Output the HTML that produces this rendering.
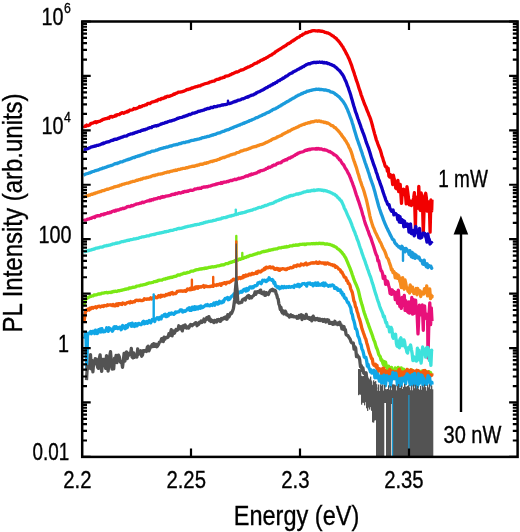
<!DOCTYPE html><html><head><meta charset="utf-8"><style>html,body{margin:0;padding:0;background:#fff;width:520px;height:532px;overflow:hidden}svg{display:block}</style></head><body><svg width="520" height="532" viewBox="0 0 520 532"><defs><clipPath id="pc"><rect x="82" y="21.5" width="435.6" height="435.4"/></clipPath></defs><rect width="520" height="532" fill="#fff"/><g clip-path="url(#pc)" fill="none" stroke-linejoin="round" stroke-linecap="butt"><polyline stroke="#f20000" stroke-width="3.3" points="83.5,125.8 84.3,126.5 85.1,126.0 85.9,126.3 86.7,125.1 87.5,125.7 88.3,125.6 89.1,125.2 89.9,125.0 90.7,123.6 91.5,123.3 92.3,123.1 93.1,123.1 93.9,122.4 94.7,122.2 95.5,121.8 96.3,122.8 97.1,121.7 97.9,121.8 98.7,121.3 99.5,121.4 100.3,121.2 101.1,120.4 101.9,120.3 102.7,119.4 103.5,119.4 104.3,119.0 105.1,118.9 105.9,118.6 106.7,118.7 107.5,118.1 108.3,117.8 109.1,118.2 109.9,116.8 110.7,116.5 111.5,116.3 112.3,117.1 113.1,116.5 113.9,116.4 114.7,116.4 115.5,115.2 116.3,115.8 117.1,114.6 117.9,114.7 118.7,114.6 119.5,114.5 120.3,113.5 121.1,113.5 121.9,112.7 122.7,112.7 123.5,113.3 124.3,112.9 125.1,112.2 125.9,112.2 126.7,112.1 127.5,111.1 128.3,111.6 129.1,110.7 129.9,110.0 130.7,110.2 131.5,110.0 132.3,109.8 133.1,109.5 133.9,108.5 134.7,108.9 135.5,108.9 136.3,108.3 137.1,108.4 137.9,107.6 138.7,107.6 139.5,106.5 140.3,107.1 141.1,106.3 141.9,106.5 142.7,105.6 143.5,105.6 144.3,105.5 145.1,105.1 145.9,104.7 146.7,104.8 147.5,103.5 148.3,103.3 149.1,103.4 149.9,103.6 150.7,103.0 151.5,102.3 152.3,101.8 153.1,101.8 153.9,101.6 154.7,101.3 155.5,101.1 156.3,100.5 157.1,100.8 157.9,99.9 158.7,99.4 159.5,99.3 160.3,99.6 161.1,98.6 161.9,98.4 162.7,98.7 163.5,97.9 164.3,98.0 165.1,97.0 165.9,97.5 166.7,96.6 167.5,96.2 168.3,96.5 169.1,96.4 169.9,96.1 170.7,95.6 171.5,95.5 172.3,95.2 173.1,94.6 173.9,93.9 174.7,94.3 175.5,93.6 176.3,93.2 177.1,93.1 177.9,92.4 178.7,92.1 179.5,92.1 180.3,92.1 181.1,91.9 181.9,91.8 182.7,91.4 183.5,91.3 184.3,90.8 185.1,90.6 185.9,90.2 186.7,89.5 187.5,89.3 188.3,89.6 189.1,88.9 189.9,89.1 190.7,88.6 191.5,88.0 192.3,88.1 193.1,87.8 193.9,87.3 194.7,87.2 195.5,86.9 196.3,86.7 197.1,86.7 197.9,86.1 198.7,86.0 199.5,85.9 200.3,85.9 201.1,85.0 201.9,84.8 202.7,84.6 203.5,84.3 204.3,84.0 205.1,83.7 205.9,83.5 206.7,83.3 207.5,83.2 208.3,83.0 209.1,82.5 209.9,82.1 210.7,81.8 211.5,81.6 212.3,81.3 213.1,81.2 213.9,81.2 214.7,80.8 215.5,80.1 216.3,79.7 217.1,79.4 217.9,79.4 218.7,79.0 219.5,79.0 220.3,78.2 221.1,78.1 221.9,78.0 222.7,77.7 223.5,77.3 224.3,77.3 225.1,76.4 225.9,76.2 226.7,76.1 227.5,75.8 228.3,75.8 229.1,75.5 229.9,74.9 230.7,74.7 231.5,74.3 232.3,73.6 233.1,73.6 233.9,73.1 234.7,72.8 235.5,72.3 236.3,71.9 237.1,72.1 237.9,71.7 238.7,71.4 239.5,70.8 240.3,70.5 241.1,70.0 241.9,70.0 242.7,69.8 243.5,69.4 244.3,69.2 245.1,68.4 245.9,68.3 246.7,67.6 247.5,67.5 248.3,66.8 249.1,66.8 249.9,66.4 250.7,65.9 251.5,65.5 252.3,65.3 253.1,64.7 253.9,64.2 254.7,63.6 255.5,63.3 256.3,63.2 257.1,62.9 257.9,62.0 258.7,61.9 259.5,61.5 260.3,60.7 261.1,60.3 261.9,60.2 262.7,59.5 263.5,59.5 264.3,58.7 265.1,58.6 265.9,58.2 266.7,57.4 267.5,57.4 268.3,56.6 269.1,56.1 269.9,55.6 270.7,55.3 271.5,55.0 272.3,54.2 273.1,54.0 273.9,53.1 274.7,52.9 275.5,51.8 276.3,51.4 277.1,50.8 277.9,50.4 278.7,49.8 279.5,49.3 280.3,49.0 281.1,48.3 281.9,47.8 282.7,47.2 283.5,46.9 284.3,46.2 285.1,45.9 285.9,45.5 286.7,44.8 287.5,44.1 288.3,43.5 289.1,43.5 289.9,42.8 290.7,42.4 291.5,41.5 292.3,41.1 293.1,40.9 293.9,39.9 294.7,39.8 295.5,39.1 296.3,38.4 297.1,38.0 297.9,37.3 298.7,37.2 299.5,36.8 300.3,35.8 301.1,35.5 301.9,35.3 302.7,34.4 303.5,34.1 304.3,33.8 305.1,33.2 305.9,32.5 306.7,32.8 307.5,32.4 308.3,32.1 309.1,31.7 309.9,31.7 310.7,31.4 311.5,31.0 312.3,30.9 313.1,30.7 313.9,30.7 314.7,30.7 315.5,30.9 316.3,30.9 317.1,30.9 317.9,31.1 318.7,30.7 319.5,31.0 320.3,30.9 321.1,31.3 321.9,31.2 322.7,31.4 323.5,31.6 324.3,32.0 325.1,32.4 325.9,32.3 326.7,32.9 327.5,32.8 328.3,33.2 329.1,33.7 329.9,33.9 330.7,34.6 331.5,35.1 332.3,35.8 333.1,35.8 333.9,36.8 334.7,37.3 335.5,38.0 336.3,38.4 337.1,39.8 337.9,40.2 338.7,41.3 339.5,42.2 340.3,43.5 341.1,44.3 341.9,45.8 342.7,46.6 343.5,48.2 344.3,49.6 345.1,51.0 345.9,52.6 346.7,54.1 347.5,55.5 348.3,57.5 349.1,58.9 349.9,61.0 350.7,63.1 351.5,65.1 352.3,67.7 353.1,70.2 353.9,72.3 354.7,74.9 355.5,77.3 356.3,80.1 357.1,82.1 357.9,84.6 358.7,87.2 359.5,89.7 360.3,91.8 361.1,94.8 361.9,96.7 362.7,99.2 363.5,101.2 364.3,103.5 365.1,105.3 365.9,107.2 366.7,109.3 367.5,111.3 368.3,113.2 369.1,115.4 369.9,117.2 370.7,119.4 371.5,122.1 372.3,125.0 373.1,128.2 373.9,131.1 374.7,134.1 375.5,136.8 376.3,139.8 377.1,141.7 377.9,144.1 378.7,146.2 379.5,148.2 380.3,150.1 381.1,152.7 381.9,155.8 382.7,157.8 383.5,160.9 384.3,162.9 385.1,165.9 385.9,167.1 386.7,167.0 387.4,171.2 388.2,168.3 388.9,176.2 389.7,177.0 390.4,174.5 391.2,177.2 391.9,178.4 392.7,184.5 393.4,175.2 394.2,179.2 394.9,181.7 395.7,188.0 396.4,188.7 397.2,185.6 397.9,180.4 398.7,191.7 399.4,188.7 400.2,184.3 400.9,194.3 401.5,203.3 402.4,189.5 403.2,189.3 403.9,194.6 404.7,190.0 405.4,193.1 406.2,203.8 407.0,186.6 407.7,191.8 408.4,197.1 409.2,204.9 409.9,204.3 410.7,201.1 411.4,205.6 412.2,203.2 412.9,202.1 413.7,197.6 414.4,192.7 415.4,227.9 415.9,202.3 416.7,208.7 417.4,196.9 418.2,207.5 418.8,186.4 419.7,209.2 420.4,210.4 421.2,192.9 421.9,198.3 422.7,211.1 423.3,233.7 424.2,205.4 424.9,195.5 425.7,193.3 426.4,198.1 427.2,211.2 427.9,208.8 428.7,201.9 429.4,208.3 430.1,232.1 430.9,200.0 431.7,210.9 432.0,199.7"/><polyline stroke="#1000c4" stroke-width="3.3" points="83.5,149.6 84.3,149.8 85.1,149.3 85.9,149.0 86.7,149.0 87.5,148.7 88.3,148.6 89.1,147.9 89.9,147.8 90.7,147.2 91.5,146.9 92.3,146.8 93.1,146.5 93.9,146.4 94.7,146.0 95.5,146.2 96.3,145.6 97.1,145.3 97.9,145.4 98.7,145.0 99.5,144.8 100.3,144.6 101.1,144.2 101.9,143.7 102.7,143.8 103.5,142.9 104.3,143.3 105.1,142.7 105.9,142.4 106.7,142.2 107.5,141.9 108.3,141.9 109.1,141.6 109.9,141.3 110.7,140.7 111.5,140.6 112.3,140.1 113.1,140.3 113.9,139.5 114.7,139.5 115.5,139.1 116.3,139.3 117.1,139.1 117.9,138.4 118.7,138.5 119.5,137.8 120.3,137.9 121.1,137.3 121.9,137.1 122.7,137.0 123.5,136.6 124.3,136.2 125.1,136.2 125.9,136.1 126.7,135.9 127.5,135.2 128.3,134.9 129.1,134.5 129.9,134.3 130.7,133.9 131.5,133.8 132.3,133.9 133.1,133.2 133.9,133.3 134.7,132.8 135.5,132.5 136.3,132.4 137.1,132.1 137.9,131.8 138.7,131.3 139.5,131.4 140.3,131.3 141.1,130.5 141.9,130.2 142.7,130.3 143.5,129.9 144.3,129.6 145.1,129.8 145.9,129.1 146.7,129.2 147.5,128.7 148.3,128.1 149.1,128.0 149.9,127.6 150.7,127.6 151.5,127.6 152.3,126.7 153.1,126.5 153.9,126.2 154.7,126.1 155.5,125.7 156.3,126.0 157.1,125.6 157.9,125.5 158.7,125.0 159.5,124.8 160.3,124.5 161.1,124.0 161.9,123.9 162.7,123.4 163.5,123.3 164.3,123.2 165.1,122.6 165.9,122.3 166.7,122.5 167.5,121.9 168.3,121.5 169.1,121.3 169.9,121.0 170.7,121.2 171.5,120.6 172.3,120.6 173.1,120.1 173.9,120.1 174.7,119.8 175.5,119.3 176.3,119.2 177.1,118.6 177.9,118.2 178.7,118.3 179.5,117.7 180.3,117.7 181.1,117.5 181.9,117.3 182.7,117.2 183.5,116.4 184.3,116.6 185.1,116.1 185.9,115.9 186.7,115.5 187.5,115.5 188.3,114.9 189.1,114.4 189.9,114.7 190.7,114.3 191.5,114.0 192.3,113.4 193.1,113.1 193.9,113.1 194.7,113.0 195.5,112.6 196.3,112.3 197.1,112.1 197.9,111.5 198.7,111.4 199.5,111.1 200.3,111.1 201.1,110.7 201.9,110.6 202.7,110.3 203.5,110.2 204.3,109.9 205.1,109.1 205.9,109.3 206.7,108.9 207.5,108.4 208.3,108.5 209.1,108.5 209.9,108.2 210.7,107.5 211.5,107.4 212.3,107.5 213.1,107.5 213.9,106.7 214.7,106.5 215.5,106.8 216.3,106.5 217.1,106.5 217.9,105.9 218.7,105.9 219.5,105.9 220.3,105.5 221.1,105.3 221.9,104.9 222.7,105.2 223.5,104.8 224.3,104.6 225.1,104.6 225.9,104.5 226.7,104.3 227.5,103.8 228.3,103.7 229.1,103.4 229.9,103.5 230.7,103.2 231.5,102.9 232.3,102.7 233.1,102.2 233.9,102.0 234.7,101.5 235.5,101.6 236.3,101.0 237.1,100.9 237.9,100.2 238.7,100.2 239.5,100.1 240.3,99.8 241.1,99.4 241.9,98.9 242.7,98.9 243.5,98.6 244.3,98.3 245.1,97.9 245.9,97.4 246.7,97.4 247.5,96.7 248.3,97.0 249.1,96.3 249.9,95.9 250.7,95.7 251.5,95.1 252.3,95.2 253.1,94.9 253.9,94.5 254.7,93.9 255.5,93.8 256.3,92.9 257.1,92.6 257.9,92.0 258.7,91.8 259.5,91.7 260.3,91.2 261.1,90.7 261.9,90.3 262.7,89.9 263.5,89.5 264.3,89.0 265.1,88.6 265.9,87.9 266.7,87.7 267.5,87.4 268.3,86.6 269.1,86.2 269.9,86.2 270.7,85.3 271.5,84.9 272.3,84.8 273.1,83.9 273.9,83.6 274.7,83.5 275.5,82.7 276.3,82.5 277.1,82.0 277.9,81.0 278.7,80.7 279.5,80.7 280.3,79.8 281.1,79.4 281.9,79.2 282.7,78.2 283.5,78.3 284.3,77.6 285.1,77.1 285.9,76.1 286.7,76.1 287.5,75.7 288.3,74.9 289.1,74.2 289.9,73.8 290.7,73.3 291.5,73.1 292.3,72.9 293.1,71.9 293.9,71.7 294.7,71.2 295.5,70.8 296.3,70.4 297.1,69.9 297.9,69.3 298.7,69.2 299.5,68.6 300.3,68.0 301.1,68.0 301.9,67.4 302.7,66.6 303.5,66.7 304.3,66.0 305.1,65.4 305.9,65.0 306.7,64.5 307.5,64.2 308.3,63.9 309.1,63.7 309.9,63.9 310.7,63.4 311.5,62.9 312.3,62.9 313.1,62.7 313.9,62.3 314.7,62.5 315.5,62.4 316.3,62.6 317.1,62.2 317.9,62.3 318.7,62.3 319.5,62.0 320.3,62.3 321.1,62.3 321.9,62.2 322.7,62.2 323.5,62.9 324.3,62.4 325.1,63.0 325.9,62.8 326.7,62.7 327.5,63.5 328.3,63.5 329.1,63.6 329.9,64.2 330.7,64.5 331.5,64.6 332.3,65.2 333.1,65.6 333.9,65.7 334.7,66.5 335.5,67.2 336.3,67.7 337.1,68.5 337.9,69.3 338.7,70.0 339.5,70.6 340.3,71.6 341.1,72.8 341.9,73.9 342.7,74.9 343.5,76.3 344.3,78.0 345.1,80.0 345.9,81.4 346.7,83.5 347.5,85.9 348.3,87.7 349.1,90.2 349.9,92.5 350.7,94.9 351.5,98.1 352.3,100.6 353.1,103.5 353.9,106.3 354.7,108.8 355.5,111.7 356.3,113.6 357.1,115.9 357.9,118.5 358.7,120.5 359.5,122.9 360.3,125.0 361.1,127.5 361.9,129.6 362.7,131.9 363.5,133.8 364.3,136.1 365.1,138.6 365.9,141.1 366.7,143.4 367.5,145.5 368.3,147.6 369.1,150.1 369.9,152.6 370.7,155.3 371.5,158.1 372.3,160.2 373.1,162.7 373.9,165.2 374.7,167.2 375.5,169.4 376.3,172.3 377.1,174.1 377.9,177.1 378.7,179.4 379.5,181.2 380.3,183.9 381.1,185.9 381.9,188.1 382.7,190.9 383.5,193.2 384.3,195.6 385.1,197.7 385.9,200.3 386.7,201.6 387.5,204.0 388.3,205.1 389.1,204.8 389.9,208.3 390.7,209.8 391.5,211.3 392.3,211.5 393.1,210.0 393.9,214.9 394.7,213.7 395.5,213.5 396.3,214.3 397.0,215.1 397.8,219.6 398.5,215.7 399.3,222.1 400.0,216.6 400.8,222.4 401.5,219.4 402.3,222.3 403.0,220.2 403.8,226.9 404.5,221.2 405.3,224.5 406.0,226.4 406.8,225.6 407.5,224.0 408.3,225.2 409.0,232.0 409.8,224.7 410.5,224.0 411.3,233.5 412.0,233.8 412.8,232.2 413.5,230.4 414.3,235.9 415.0,230.6 415.8,226.5 416.5,231.5 417.3,232.9 418.0,233.4 418.8,237.7 419.5,228.5 420.3,238.1 421.0,234.6 421.8,237.5 422.5,234.0 423.3,233.0 424.0,233.8 424.8,233.5 425.5,236.2 426.3,238.5 427.0,242.1 427.8,233.8 428.5,238.0 429.3,239.6 430.0,244.0 430.8,243.1 431.5,242.4 432.0,243.5"/><path d="M228.0 103.7V100.7" stroke="#1000c4" stroke-width="2.4" stroke-linecap="round"/><polyline stroke="#1a9bdc" stroke-width="3.3" points="83.5,175.1 84.3,174.8 85.1,174.3 85.9,173.8 86.7,173.8 87.5,173.5 88.3,173.3 89.1,172.8 89.9,172.9 90.7,172.2 91.5,172.3 92.3,171.7 93.1,171.5 93.9,171.3 94.7,170.8 95.5,170.6 96.3,170.5 97.1,170.2 97.9,170.1 98.7,169.6 99.5,169.5 100.3,168.9 101.1,168.8 101.9,168.6 102.7,168.0 103.5,168.1 104.3,167.8 105.1,167.4 105.9,167.3 106.7,166.9 107.5,166.5 108.3,166.4 109.1,166.0 109.9,165.8 110.7,165.7 111.5,165.3 112.3,165.1 113.1,164.8 113.9,164.2 114.7,163.9 115.5,163.6 116.3,163.5 117.1,163.5 117.9,163.0 118.7,163.0 119.5,162.4 120.3,162.0 121.1,161.9 121.9,161.8 122.7,161.6 123.5,161.1 124.3,160.8 125.1,160.7 125.9,160.2 126.7,159.9 127.5,159.9 128.3,159.2 129.1,159.3 129.9,159.1 130.7,158.4 131.5,158.5 132.3,157.8 133.1,157.6 133.9,157.4 134.7,157.5 135.5,156.7 136.3,156.7 137.1,156.4 137.9,156.0 138.7,156.1 139.5,155.5 140.3,155.5 141.1,155.1 141.9,154.9 142.7,154.6 143.5,154.3 144.3,154.1 145.1,153.9 145.9,153.3 146.7,153.0 147.5,152.9 148.3,152.5 149.1,152.4 149.9,152.4 150.7,151.9 151.5,151.4 152.3,151.2 153.1,151.1 153.9,151.0 154.7,150.8 155.5,150.5 156.3,150.1 157.1,150.1 157.9,149.6 158.7,149.5 159.5,148.9 160.3,148.9 161.1,148.5 161.9,148.3 162.7,148.1 163.5,148.0 164.3,147.6 165.1,147.7 165.9,147.3 166.7,147.0 167.5,147.1 168.3,146.8 169.1,146.4 169.9,146.1 170.7,146.0 171.5,146.0 172.3,145.6 173.1,145.3 173.9,145.0 174.7,144.9 175.5,144.9 176.3,144.4 177.1,144.6 177.9,144.3 178.7,143.9 179.5,143.6 180.3,143.5 181.1,143.5 181.9,142.9 182.7,142.8 183.5,142.5 184.3,142.6 185.1,142.5 185.9,142.1 186.7,141.8 187.5,141.9 188.3,141.5 189.1,141.5 189.9,141.0 190.7,140.7 191.5,140.5 192.3,140.4 193.1,140.3 193.9,140.2 194.7,139.9 195.5,139.6 196.3,139.7 197.1,139.3 197.9,139.2 198.7,139.1 199.5,138.8 200.3,138.4 201.1,138.5 201.9,137.9 202.7,137.7 203.5,137.7 204.3,137.5 205.1,137.1 205.9,137.1 206.7,136.6 207.5,136.5 208.3,136.5 209.1,136.3 209.9,135.9 210.7,135.7 211.5,135.4 212.3,135.0 213.1,135.0 213.9,134.6 214.7,134.4 215.5,134.3 216.3,133.8 217.1,133.4 217.9,133.2 218.7,133.0 219.5,132.9 220.3,132.6 221.1,132.0 221.9,131.8 222.7,131.3 223.5,131.3 224.3,131.1 225.1,130.5 225.9,130.4 226.7,129.9 227.5,129.9 228.3,129.6 229.1,129.4 229.9,128.7 230.7,128.4 231.5,128.3 232.3,127.7 233.1,127.8 233.9,127.1 234.7,126.8 235.5,126.5 236.3,126.4 237.1,125.8 237.9,125.6 238.7,125.2 239.5,125.2 240.3,124.5 241.1,124.2 241.9,124.2 242.7,123.7 243.5,123.2 244.3,123.3 245.1,122.6 245.9,122.3 246.7,122.1 247.5,121.7 248.3,121.5 249.1,121.0 249.9,120.5 250.7,120.3 251.5,120.1 252.3,119.5 253.1,119.3 253.9,119.0 254.7,118.7 255.5,118.2 256.3,117.7 257.1,117.6 257.9,117.3 258.7,116.8 259.5,116.2 260.3,116.2 261.1,115.7 261.9,115.4 262.7,114.7 263.5,114.7 264.3,114.1 265.1,114.0 265.9,113.3 266.7,112.8 267.5,112.6 268.3,112.4 269.1,112.0 269.9,111.6 270.7,110.9 271.5,110.7 272.3,110.0 273.1,109.6 273.9,109.1 274.7,109.0 275.5,108.7 276.3,108.1 277.1,107.7 277.9,107.4 278.7,106.6 279.5,106.3 280.3,106.0 281.1,105.2 281.9,105.0 282.7,104.2 283.5,103.9 284.3,103.4 285.1,103.0 285.9,102.4 286.7,101.9 287.5,101.6 288.3,101.1 289.1,100.8 289.9,100.0 290.7,99.9 291.5,99.1 292.3,98.8 293.1,98.1 293.9,98.1 294.7,97.4 295.5,96.9 296.3,96.2 297.1,96.1 297.9,95.4 298.7,95.1 299.5,94.8 300.3,94.5 301.1,93.9 301.9,93.4 302.7,93.5 303.5,92.8 304.3,92.3 305.1,92.3 305.9,92.1 306.7,91.4 307.5,91.1 308.3,91.1 309.1,90.9 309.9,90.5 310.7,90.3 311.5,90.4 312.3,89.8 313.1,89.8 313.9,89.7 314.7,89.7 315.5,89.4 316.3,89.2 317.1,89.4 317.9,89.4 318.7,89.1 319.5,89.5 320.3,89.5 321.1,89.4 321.9,89.6 322.7,89.7 323.5,89.9 324.3,90.1 325.1,89.9 325.9,90.0 326.7,90.3 327.5,90.6 328.3,90.7 329.1,90.9 329.9,91.2 330.7,91.9 331.5,92.1 332.3,92.2 333.1,92.6 333.9,93.0 334.7,93.4 335.5,94.3 336.3,94.6 337.1,95.4 337.9,96.0 338.7,96.6 339.5,97.3 340.3,98.4 341.1,99.2 341.9,100.1 342.7,101.0 343.5,102.2 344.3,103.5 345.1,104.6 345.9,106.3 346.7,108.1 347.5,109.5 348.3,111.9 349.1,113.7 349.9,116.0 350.7,118.2 351.5,120.1 352.3,122.9 353.1,125.3 353.9,128.2 354.7,131.1 355.5,133.6 356.3,136.3 357.1,138.9 357.9,141.0 358.7,143.4 359.5,145.6 360.3,148.0 361.1,150.4 361.9,152.5 362.7,155.2 363.5,157.6 364.3,159.9 365.1,162.5 365.9,164.6 366.7,167.2 367.5,169.2 368.3,171.8 369.1,174.0 369.9,176.9 370.7,179.2 371.5,181.3 372.3,183.7 373.1,185.8 373.9,188.6 374.7,191.2 375.5,194.3 376.3,197.4 377.1,200.2 377.9,203.2 378.7,206.2 379.5,208.7 380.3,211.0 381.1,213.5 381.9,215.4 382.7,217.6 383.5,219.9 384.3,221.8 385.1,223.8 385.9,225.7 386.7,227.5 387.5,229.0 388.3,230.9 389.1,232.3 389.9,234.0 390.7,235.7 391.5,237.0 392.3,239.0 393.1,239.5 393.9,239.9 394.7,242.4 395.5,243.8 396.3,244.0 397.1,245.6 397.9,245.8 398.7,247.1 399.5,246.8 400.3,248.0 401.1,248.7 401.9,246.2 402.7,247.6 403.5,249.5 404.3,248.7 405.1,251.9 405.9,248.4 406.7,249.3 407.5,250.8 408.3,251.4 409.1,254.4 409.9,250.7 410.7,255.4 411.4,256.7 412.2,252.3 412.9,257.6 413.7,256.5 414.4,254.1 415.2,258.4 415.9,255.0 416.7,256.9 417.4,256.6 418.2,257.9 418.9,257.0 419.7,258.8 420.4,260.4 421.2,260.3 421.9,261.1 422.7,263.9 423.4,264.2 424.2,260.1 424.9,264.5 425.7,265.3 426.4,266.6 427.2,263.8 427.9,267.7 428.7,265.8 429.4,265.7 430.2,266.5 430.9,266.3 431.7,268.3 432.0,267.2"/><path d="M403.0 248.7V260.7" stroke="#1a9bdc" stroke-width="2.4" stroke-linecap="round"/><polyline stroke="#f68a1c" stroke-width="3.3" points="83.5,197.3 84.3,196.8 85.1,196.5 85.9,196.3 86.7,196.0 87.5,195.6 88.3,195.5 89.1,195.1 89.9,195.1 90.7,194.5 91.5,194.2 92.3,194.3 93.1,193.9 93.9,193.5 94.7,193.5 95.5,193.0 96.3,192.9 97.1,192.6 97.9,192.2 98.7,192.1 99.5,191.8 100.3,191.3 101.1,191.5 101.9,190.9 102.7,190.7 103.5,190.7 104.3,190.4 105.1,189.8 105.9,189.8 106.7,189.2 107.5,189.4 108.3,189.0 109.1,188.8 109.9,188.5 110.7,188.2 111.5,188.1 112.3,187.7 113.1,187.6 113.9,187.0 114.7,186.9 115.5,186.6 116.3,186.5 117.1,186.3 117.9,185.9 118.7,186.0 119.5,185.5 120.3,185.1 121.1,185.2 121.9,184.6 122.7,184.3 123.5,184.2 124.3,184.1 125.1,183.7 125.9,183.5 126.7,183.2 127.5,183.1 128.3,183.1 129.1,182.6 129.9,182.5 130.7,182.1 131.5,181.8 132.3,181.6 133.1,181.3 133.9,181.3 134.7,181.1 135.5,180.8 136.3,180.4 137.1,180.2 137.9,180.3 138.7,179.7 139.5,179.6 140.3,179.5 141.1,179.0 141.9,179.2 142.7,178.6 143.5,178.2 144.3,178.2 145.1,178.1 145.9,177.9 146.7,177.5 147.5,177.5 148.3,177.3 149.1,176.9 149.9,176.9 150.7,176.7 151.5,176.1 152.3,175.9 153.1,175.6 153.9,175.4 154.7,175.6 155.5,175.1 156.3,174.8 157.1,174.8 157.9,174.4 158.7,174.1 159.5,174.1 160.3,174.1 161.1,173.8 161.9,173.8 162.7,173.3 163.5,173.4 164.3,172.8 165.1,172.7 165.9,172.7 166.7,172.3 167.5,171.9 168.3,172.1 169.1,172.0 169.9,171.5 170.7,171.3 171.5,171.1 172.3,171.1 173.1,170.8 173.9,170.5 174.7,170.7 175.5,170.0 176.3,170.3 177.1,170.1 177.9,169.5 178.7,169.3 179.5,169.5 180.3,169.2 181.1,168.8 181.9,168.8 182.7,168.4 183.5,168.4 184.3,168.3 185.1,168.3 185.9,167.9 186.7,167.6 187.5,167.8 188.3,167.5 189.1,167.0 189.9,166.8 190.7,166.8 191.5,166.5 192.3,166.4 193.1,166.2 193.9,166.4 194.7,166.1 195.5,165.8 196.3,165.3 197.1,165.5 197.9,165.1 198.7,165.2 199.5,164.5 200.3,164.4 201.1,164.2 201.9,164.4 202.7,164.2 203.5,163.9 204.3,163.4 205.1,163.1 205.9,163.4 206.7,162.7 207.5,162.9 208.3,162.5 209.1,162.2 209.9,162.0 210.7,161.6 211.5,161.3 212.3,161.5 213.1,161.1 213.9,160.9 214.7,160.5 215.5,160.3 216.3,160.3 217.1,159.9 217.9,159.5 218.7,159.3 219.5,159.3 220.3,158.5 221.1,158.4 221.9,158.0 222.7,157.7 223.5,157.4 224.3,157.5 225.1,157.1 225.9,156.8 226.7,156.4 227.5,156.2 228.3,155.9 229.1,155.8 229.9,155.1 230.7,154.9 231.5,154.6 232.3,154.5 233.1,154.2 233.9,154.0 234.7,153.9 235.5,153.6 236.3,152.9 237.1,152.7 237.9,152.5 238.7,152.3 239.5,151.9 240.3,151.4 241.1,151.0 241.9,150.9 242.7,150.8 243.5,150.2 244.3,150.1 245.1,149.8 245.9,149.9 246.7,149.4 247.5,149.3 248.3,148.8 249.1,148.5 249.9,148.5 250.7,147.9 251.5,147.8 252.3,147.2 253.1,147.0 253.9,146.9 254.7,146.6 255.5,146.5 256.3,146.5 257.1,145.8 257.9,145.5 258.7,145.5 259.5,145.1 260.3,144.6 261.1,144.7 261.9,144.5 262.7,144.1 263.5,143.8 264.3,143.4 265.1,143.2 265.9,142.3 266.7,142.4 267.5,141.9 268.3,141.7 269.1,141.2 269.9,140.7 270.7,140.4 271.5,139.7 272.3,139.4 273.1,138.9 273.9,138.7 274.7,138.6 275.5,137.9 276.3,137.9 277.1,137.0 277.9,136.9 278.7,136.3 279.5,136.1 280.3,135.8 281.1,135.5 281.9,135.0 282.7,134.2 283.5,134.1 284.3,133.4 285.1,133.2 285.9,132.5 286.7,132.3 287.5,132.0 288.3,131.2 289.1,131.1 289.9,130.9 290.7,130.3 291.5,129.7 292.3,129.3 293.1,129.0 293.9,128.6 294.7,128.3 295.5,128.0 296.3,127.6 297.1,127.2 297.9,126.9 298.7,126.5 299.5,125.8 300.3,125.7 301.1,125.3 301.9,124.8 302.7,124.8 303.5,124.2 304.3,124.3 305.1,123.9 305.9,123.3 306.7,123.3 307.5,123.1 308.3,122.7 309.1,122.9 309.9,122.7 310.7,122.0 311.5,122.1 312.3,121.7 313.1,121.8 313.9,121.7 314.7,121.2 315.5,121.2 316.3,120.9 317.1,121.1 317.9,121.3 318.7,121.0 319.5,120.9 320.3,121.6 321.1,121.2 321.9,121.8 322.7,121.9 323.5,122.0 324.3,122.5 325.1,122.2 325.9,122.5 326.7,123.1 327.5,122.9 328.3,123.4 329.1,123.7 329.9,124.3 330.7,125.0 331.5,125.6 332.3,125.6 333.1,126.0 333.9,127.0 334.7,127.7 335.5,127.7 336.3,128.8 337.1,129.6 337.9,130.4 338.7,131.4 339.5,132.2 340.3,133.5 341.1,134.1 341.9,135.6 342.7,136.6 343.5,137.7 344.3,138.6 345.1,140.2 345.9,141.0 346.7,142.5 347.5,143.9 348.3,145.2 349.1,147.4 349.9,148.6 350.7,150.7 351.5,152.7 352.3,155.3 353.1,158.2 353.9,160.6 354.7,162.7 355.5,165.2 356.3,167.3 357.1,170.1 357.9,173.0 358.7,175.3 359.5,178.2 360.3,180.7 361.1,182.9 361.9,185.5 362.7,187.5 363.5,189.8 364.3,192.3 365.1,195.2 365.9,197.9 366.7,201.0 367.5,204.6 368.3,208.4 369.1,212.1 369.9,216.1 370.7,219.2 371.5,221.9 372.3,224.6 373.1,227.0 373.9,228.5 374.7,230.8 375.5,232.5 376.3,234.0 377.1,235.7 377.9,237.6 378.7,238.8 379.5,240.7 380.3,242.2 381.1,243.5 381.9,245.7 382.7,247.4 383.5,249.0 384.3,250.4 385.1,252.2 385.9,254.3 386.7,257.1 387.5,258.0 388.3,259.3 389.1,261.8 389.9,264.1 390.7,266.3 391.5,269.9 392.2,269.3 393.0,272.6 393.7,271.5 394.5,272.7 395.2,277.8 396.0,273.7 396.7,274.9 397.5,278.3 398.2,275.1 399.0,276.4 399.7,280.9 400.5,283.0 401.2,287.6 402.0,278.1 402.7,277.8 403.5,286.1 404.2,289.2 405.0,279.9 405.7,282.8 406.5,288.0 407.2,287.9 408.0,291.2 408.7,289.0 409.5,293.0 410.2,284.9 411.0,291.1 411.7,289.3 412.5,287.1 413.2,291.6 414.0,293.6 414.7,290.3 415.5,292.4 416.2,288.5 417.0,294.8 417.7,288.5 418.5,291.9 419.2,291.7 420.0,290.7 420.7,296.5 421.5,293.6 422.2,292.1 423.0,293.9 423.7,294.0 424.5,288.6 425.2,288.5 426.0,292.8 426.7,286.0 427.5,295.9 428.2,295.4 429.0,293.5 429.7,288.9 430.5,298.7 431.2,295.2 432.0,297.0 432.0,294.9"/><polyline stroke="#e8107a" stroke-width="3.3" points="83.5,221.0 84.3,220.1 85.1,220.1 85.9,220.2 86.7,219.7 87.5,219.1 88.3,219.2 89.1,219.0 89.9,218.6 90.7,218.1 91.5,218.3 92.3,217.6 93.1,217.3 93.9,217.0 94.7,217.5 95.5,216.3 96.3,216.0 97.1,216.0 97.9,215.6 98.7,215.6 99.5,215.9 100.3,215.7 101.1,214.7 101.9,214.5 102.7,214.4 103.5,214.7 104.3,213.7 105.1,214.0 105.9,213.6 106.7,213.6 107.5,212.8 108.3,213.2 109.1,213.0 109.9,212.2 110.7,212.5 111.5,212.0 112.3,211.3 113.1,211.2 113.9,210.8 114.7,211.2 115.5,210.3 116.3,210.7 117.1,209.9 117.9,210.2 118.7,209.9 119.5,209.6 120.3,208.9 121.1,209.1 121.9,208.8 122.7,208.2 123.5,208.6 124.3,208.4 125.1,207.8 125.9,207.8 126.7,207.0 127.5,206.6 128.3,206.5 129.1,206.5 129.9,206.6 130.7,206.3 131.5,205.5 132.3,205.8 133.1,205.6 133.9,205.1 134.7,204.8 135.5,204.5 136.3,204.0 137.1,203.8 137.9,203.8 138.7,203.6 139.5,203.4 140.3,203.1 141.1,203.2 141.9,202.3 142.7,202.1 143.5,202.6 144.3,202.0 145.1,201.8 145.9,201.5 146.7,201.2 147.5,200.9 148.3,200.8 149.1,200.9 149.9,199.9 150.7,200.6 151.5,199.6 152.3,199.7 153.1,199.8 153.9,198.9 154.7,199.2 155.5,198.9 156.3,198.6 157.1,198.7 157.9,197.8 158.7,197.7 159.5,198.1 160.3,198.0 161.1,196.9 161.9,197.3 162.7,196.5 163.5,197.1 164.3,196.9 165.1,196.5 165.9,196.1 166.7,196.1 167.5,195.8 168.3,195.8 169.1,195.6 169.9,195.5 170.7,195.3 171.5,194.5 172.3,194.3 173.1,194.6 173.9,194.2 174.7,194.4 175.5,193.4 176.3,193.5 177.1,193.8 177.9,193.2 178.7,192.7 179.5,192.7 180.3,193.2 181.1,192.8 181.9,192.7 182.7,191.9 183.5,192.3 184.3,191.3 185.1,191.4 185.9,191.6 186.7,191.4 187.5,191.0 188.3,191.3 189.1,190.6 189.9,190.3 190.7,190.1 191.5,190.4 192.3,190.3 193.1,190.1 193.9,189.7 194.7,189.0 195.5,189.2 196.3,188.8 197.1,188.7 197.9,188.3 198.7,188.7 199.5,188.1 200.3,188.2 201.1,188.4 201.9,187.5 202.7,187.4 203.5,187.2 204.3,186.8 205.1,187.1 205.9,186.9 206.7,186.7 207.5,186.9 208.3,186.3 209.1,186.1 209.9,186.2 210.7,186.0 211.5,185.4 212.3,185.3 213.1,184.9 213.9,184.8 214.7,184.6 215.5,184.5 216.3,184.0 217.1,184.1 217.9,183.6 218.7,183.5 219.5,183.3 220.3,183.5 221.1,182.6 221.9,183.3 222.7,182.3 223.5,182.5 224.3,182.0 225.1,182.2 225.9,182.2 226.7,181.6 227.5,181.4 228.3,181.7 229.1,181.1 229.9,180.7 230.7,180.4 231.5,180.7 232.3,180.4 233.1,179.8 233.9,179.8 234.7,179.2 235.5,179.6 236.3,179.5 237.1,179.1 237.9,178.9 238.7,178.1 239.5,178.6 240.3,178.1 241.1,178.1 241.9,177.7 242.7,177.6 243.5,177.3 244.3,177.0 245.1,176.6 245.9,176.1 246.7,175.8 247.5,176.2 248.3,175.8 249.1,175.1 249.9,174.7 250.7,175.1 251.5,174.0 252.3,174.3 253.1,174.1 253.9,173.6 254.7,173.7 255.5,173.2 256.3,173.2 257.1,172.6 257.9,172.1 258.7,171.4 259.5,171.8 260.3,170.8 261.1,170.6 261.9,170.6 262.7,170.3 263.5,170.2 264.3,169.8 265.1,169.5 265.9,169.0 266.7,168.3 267.5,168.3 268.3,167.4 269.1,167.2 269.9,167.5 270.7,166.8 271.5,166.7 272.3,165.7 273.1,165.8 273.9,165.0 274.7,165.2 275.5,165.0 276.3,164.2 277.1,163.5 277.9,163.4 278.7,162.8 279.5,162.8 280.3,162.8 281.1,162.6 281.9,161.6 282.7,161.1 283.5,160.6 284.3,160.5 285.1,160.0 285.9,159.6 286.7,159.9 287.5,158.9 288.3,158.4 289.1,158.0 289.9,158.2 290.7,157.5 291.5,157.0 292.3,156.9 293.1,156.3 293.9,155.7 294.7,155.4 295.5,154.7 296.3,154.3 297.1,154.1 297.9,153.1 298.7,153.1 299.5,152.7 300.3,152.3 301.1,152.2 301.9,152.0 302.7,151.8 303.5,151.5 304.3,151.1 305.1,150.3 305.9,150.2 306.7,150.4 307.5,149.7 308.3,149.9 309.1,149.2 309.9,149.8 310.7,149.1 311.5,149.2 312.3,148.8 313.1,148.8 313.9,148.9 314.7,148.9 315.5,149.1 316.3,148.5 317.1,149.1 317.9,148.5 318.7,148.6 319.5,149.2 320.3,148.9 321.1,148.8 321.9,149.2 322.7,149.7 323.5,149.9 324.3,149.5 325.1,150.0 325.9,150.1 326.7,150.2 327.5,150.8 328.3,151.0 329.1,151.7 329.9,151.5 330.7,152.3 331.5,152.6 332.3,153.1 333.1,153.6 333.9,154.6 334.7,154.9 335.5,155.2 336.3,155.8 337.1,156.6 337.9,157.9 338.7,158.5 339.5,159.8 340.3,160.1 341.1,161.5 341.9,162.8 342.7,164.0 343.5,164.6 344.3,166.1 345.1,167.9 345.9,169.0 346.7,170.1 347.5,171.8 348.3,173.4 349.1,174.6 349.9,176.7 350.7,178.5 351.5,180.9 352.3,182.7 353.1,185.1 353.9,187.2 354.7,189.6 355.5,192.3 356.3,194.8 357.1,196.8 357.9,199.5 358.7,201.4 359.5,204.0 360.3,206.6 361.1,208.9 361.9,211.6 362.7,214.7 363.5,217.0 364.3,220.1 365.1,222.9 365.9,225.2 366.7,227.1 367.5,229.6 368.3,231.3 369.1,233.9 369.9,236.0 370.7,237.6 371.5,239.9 372.3,242.4 373.1,244.8 373.9,247.3 374.7,249.9 375.5,252.7 376.3,254.8 377.1,256.1 377.9,260.9 378.7,260.7 379.5,264.7 380.3,268.0 381.1,270.7 381.8,271.1 382.6,273.8 383.3,278.4 384.1,278.9 384.8,276.4 385.6,284.3 386.3,283.5 387.1,281.0 387.8,282.1 388.6,285.5 389.3,287.7 390.1,293.6 390.8,289.6 391.6,294.4 392.3,289.9 393.1,293.0 393.8,291.6 394.6,293.6 395.3,299.7 396.1,292.4 396.8,297.8 397.6,303.3 398.3,290.1 399.1,298.4 399.8,306.4 400.6,304.6 401.3,308.4 402.1,297.5 402.8,305.4 403.6,299.6 404.3,295.4 405.1,310.3 405.8,300.7 406.6,310.1 407.3,311.3 408.1,312.4 408.8,302.0 409.6,313.1 410.3,301.8 411.1,311.0 411.8,297.5 412.6,314.2 413.3,299.3 414.1,313.4 414.8,311.9 415.6,300.1 416.3,311.5 417.1,314.4 418.0,333.9 418.6,320.8 419.3,305.2 420.1,309.4 420.8,308.4 421.6,315.0 422.3,305.0 423.3,330.3 423.8,306.5 424.6,306.0 425.3,318.1 426.1,313.8 426.8,319.0 427.6,316.6 428.0,357.9 429.1,312.9 429.8,302.9 430.6,324.7 431.3,307.9 432.0,321.2"/><polyline stroke="#3ee2dc" stroke-width="3.3" points="83.5,251.7 84.3,251.4 85.1,251.6 85.9,251.4 86.7,250.8 87.5,250.9 88.3,250.5 89.1,250.5 89.9,250.2 90.7,250.0 91.5,249.9 92.3,249.3 93.1,249.4 93.9,248.9 94.7,249.0 95.5,248.4 96.3,248.2 97.1,248.1 97.9,247.8 98.7,247.9 99.5,247.3 100.3,247.2 101.1,247.2 101.9,247.1 102.7,246.9 103.5,246.5 104.3,246.1 105.1,245.9 105.9,245.9 106.7,245.5 107.5,245.6 108.3,245.4 109.1,245.2 109.9,245.1 110.7,244.6 111.5,244.7 112.3,244.1 113.1,243.9 113.9,243.8 114.7,243.8 115.5,243.2 116.3,243.4 117.1,243.0 117.9,243.0 118.7,242.8 119.5,242.6 120.3,242.3 121.1,241.8 121.9,241.7 122.7,241.6 123.5,241.5 124.3,241.2 125.1,241.1 125.9,240.8 126.7,240.7 127.5,240.3 128.3,240.2 129.1,240.3 129.9,239.8 130.7,239.7 131.5,239.7 132.3,239.5 133.1,239.2 133.9,238.8 134.7,239.0 135.5,238.8 136.3,238.6 137.1,238.4 137.9,238.3 138.7,238.1 139.5,237.7 140.3,237.5 141.1,237.3 141.9,236.9 142.7,236.8 143.5,236.9 144.3,236.7 145.1,236.5 145.9,236.3 146.7,235.9 147.5,235.8 148.3,235.9 149.1,235.8 149.9,235.2 150.7,235.1 151.5,234.8 152.3,234.7 153.1,234.6 153.9,234.3 154.7,234.5 155.5,233.8 156.3,233.8 157.1,233.4 157.9,233.4 158.7,233.4 159.5,232.9 160.3,233.0 161.1,232.8 161.9,232.6 162.7,232.4 163.5,232.3 164.3,231.9 165.1,231.7 165.9,231.8 166.7,231.3 167.5,231.4 168.3,231.3 169.1,230.9 169.9,230.6 170.7,230.5 171.5,230.4 172.3,230.3 173.1,230.2 173.9,229.8 174.7,229.5 175.5,229.3 176.3,229.5 177.1,228.9 177.9,228.7 178.7,228.4 179.5,228.6 180.3,228.3 181.1,228.3 181.9,228.1 182.7,227.9 183.5,227.7 184.3,227.4 185.1,227.1 185.9,226.8 186.7,226.8 187.5,226.4 188.3,226.3 189.1,226.2 189.9,226.1 190.7,225.9 191.5,225.6 192.3,225.7 193.1,225.3 193.9,225.1 194.7,224.9 195.5,224.6 196.3,224.8 197.1,224.4 197.9,224.3 198.7,224.3 199.5,224.1 200.3,223.7 201.1,223.7 201.9,223.3 202.7,223.3 203.5,222.9 204.3,222.6 205.1,222.5 205.9,222.1 206.7,222.1 207.5,221.8 208.3,221.7 209.1,221.3 209.9,221.3 210.7,221.2 211.5,221.2 212.3,221.0 213.1,220.6 213.9,220.3 214.7,220.3 215.5,220.2 216.3,219.8 217.1,219.3 217.9,219.4 218.7,219.1 219.5,219.1 220.3,218.8 221.1,218.8 221.9,218.0 222.7,218.2 223.5,217.7 224.3,217.6 225.1,217.6 225.9,217.5 226.7,216.8 227.5,217.0 228.3,216.4 229.1,216.3 229.9,216.0 230.7,216.2 231.5,215.5 232.3,215.7 233.1,215.3 233.9,215.2 234.7,214.6 235.5,214.6 236.3,214.5 237.1,214.1 237.9,214.1 238.7,213.5 239.5,213.3 240.3,213.4 241.1,212.9 241.9,213.1 242.7,212.7 243.5,212.6 244.3,212.4 245.1,212.1 245.9,212.0 246.7,211.3 247.5,211.3 248.3,210.8 249.1,210.9 249.9,210.7 250.7,210.5 251.5,210.1 252.3,210.1 253.1,209.5 253.9,209.2 254.7,209.2 255.5,209.1 256.3,208.3 257.1,208.3 257.9,208.0 258.7,207.5 259.5,207.3 260.3,207.5 261.1,207.3 261.9,206.8 262.7,206.4 263.5,206.5 264.3,205.9 265.1,205.5 265.9,205.6 266.7,205.3 267.5,205.0 268.3,204.5 269.1,204.2 269.9,203.9 270.7,203.8 271.5,203.3 272.3,203.3 273.1,203.1 273.9,202.7 274.7,201.9 275.5,201.9 276.3,201.2 277.1,201.0 277.9,200.7 278.7,200.5 279.5,199.8 280.3,199.6 281.1,199.7 281.9,198.8 282.7,198.6 283.5,198.4 284.3,197.8 285.1,197.6 285.9,197.5 286.7,197.0 287.5,196.9 288.3,196.8 289.1,196.0 289.9,196.1 290.7,195.5 291.5,195.5 292.3,195.5 293.1,195.4 293.9,194.9 294.7,194.8 295.5,194.5 296.3,194.1 297.1,193.9 297.9,194.0 298.7,194.0 299.5,193.4 300.3,193.5 301.1,193.2 301.9,192.8 302.7,192.7 303.5,192.1 304.3,192.0 305.1,191.8 305.9,191.8 306.7,191.2 307.5,191.0 308.3,191.4 309.1,191.0 309.9,191.1 310.7,191.0 311.5,190.4 312.3,190.4 313.1,190.7 313.9,190.0 314.7,190.5 315.5,190.4 316.3,190.2 317.1,189.9 317.9,190.1 318.7,189.7 319.5,190.0 320.3,189.8 321.1,190.2 321.9,190.4 322.7,190.1 323.5,190.8 324.3,190.4 325.1,190.6 325.9,190.9 326.7,190.9 327.5,191.5 328.3,191.7 329.1,191.9 329.9,192.1 330.7,192.6 331.5,192.8 332.3,193.3 333.1,193.9 333.9,194.2 334.7,194.4 335.5,195.3 336.3,195.6 337.1,196.7 337.9,197.6 338.7,198.1 339.5,199.1 340.3,200.1 341.1,200.6 341.9,202.1 342.7,203.9 343.5,205.6 344.3,208.1 345.1,209.4 345.9,211.0 346.7,213.0 347.5,214.9 348.3,216.6 349.1,218.4 349.9,219.8 350.7,221.8 351.5,223.8 352.3,226.3 353.1,228.2 353.9,230.5 354.7,232.1 355.5,234.6 356.3,236.3 357.1,239.0 357.9,240.7 358.7,243.1 359.5,245.8 360.3,248.0 361.1,250.0 361.9,252.9 362.7,255.0 363.5,257.3 364.3,259.4 365.1,261.5 365.9,264.1 366.7,266.2 367.5,268.8 368.3,270.7 369.1,273.2 369.9,275.4 370.7,277.4 371.5,280.1 372.3,282.9 373.1,285.0 373.9,288.1 374.7,290.7 375.5,293.4 376.3,295.6 377.1,298.4 377.9,300.8 378.7,302.9 379.5,305.8 380.3,308.0 381.1,309.8 381.9,311.7 382.7,313.7 383.5,316.9 384.3,316.1 385.1,320.1 385.9,322.7 386.6,322.5 387.4,326.6 388.1,326.9 388.9,326.9 389.6,331.9 390.4,329.8 391.1,327.4 391.9,329.2 392.6,336.5 393.4,338.3 394.1,334.4 394.9,335.1 395.6,334.3 396.4,343.3 397.1,346.1 397.9,346.6 398.6,340.9 399.4,347.8 400.1,339.1 400.9,337.8 401.6,345.5 402.4,342.9 403.1,345.6 403.9,339.9 404.6,341.9 405.4,347.4 406.1,348.2 406.9,352.1 407.6,353.1 408.4,347.6 409.1,349.2 409.9,346.7 410.6,345.0 411.4,349.6 412.1,353.1 412.9,360.7 413.6,356.6 414.4,358.2 415.1,358.7 415.9,360.9 416.6,361.0 417.4,348.2 418.1,350.9 418.9,350.2 419.6,360.0 420.4,354.6 421.1,363.1 421.9,356.6 422.6,347.0 423.4,351.0 424.1,354.1 424.9,349.3 425.6,357.2 426.4,348.0 427.1,351.7 427.9,347.5 428.6,349.6 429.4,360.5 430.1,356.9 430.9,365.4 431.6,350.1 432.0,351.2"/><path d="M235.8 214.6V209.6" stroke="#3ee2dc" stroke-width="2.4" stroke-linecap="round"/><polyline stroke="#7ae814" stroke-width="3.3" points="83.5,304.9 84.3,304.2 85.1,300.8 85.9,299.1 86.7,298.6 87.5,298.0 88.3,297.4 89.1,297.2 89.9,296.7 90.7,296.5 91.5,296.0 92.3,295.8 93.1,295.9 93.9,295.0 94.7,295.1 95.5,294.8 96.3,294.8 97.1,294.6 97.9,294.2 98.7,293.8 99.5,294.1 100.3,293.9 101.1,293.8 101.9,293.1 102.7,293.2 103.5,293.1 104.3,292.9 105.1,292.7 105.9,292.7 106.7,292.4 107.5,292.9 108.3,292.7 109.1,292.4 109.9,292.3 110.7,292.5 111.5,292.0 112.3,292.1 113.1,291.5 113.9,291.6 114.7,291.4 115.5,291.2 116.3,291.5 117.1,291.3 117.9,290.9 118.7,290.6 119.5,290.8 120.3,290.3 121.1,290.4 121.9,290.1 122.7,290.0 123.5,289.7 124.3,289.7 125.1,289.1 125.9,289.3 126.7,288.9 127.5,288.8 128.3,288.8 129.1,287.9 129.9,287.9 130.7,288.0 131.5,287.8 132.3,287.3 133.1,287.2 133.9,287.3 134.7,287.2 135.5,287.0 136.3,286.2 137.1,286.2 137.9,286.0 138.7,285.8 139.5,285.9 140.3,285.4 141.1,285.1 141.9,285.1 142.7,285.0 143.5,284.7 144.3,284.7 145.1,284.5 145.9,284.1 146.7,284.0 147.5,283.3 148.3,283.4 149.1,282.8 149.9,282.8 150.7,282.8 151.5,282.7 152.3,282.5 153.1,282.3 153.9,281.7 154.7,281.6 155.5,281.7 156.3,281.1 157.1,281.3 157.9,280.5 158.7,280.5 159.5,280.1 160.3,280.1 161.1,280.2 161.9,280.1 162.7,279.5 163.5,279.2 164.3,279.0 165.1,279.2 165.9,278.5 166.7,278.7 167.5,278.1 168.3,277.9 169.1,278.1 169.9,277.4 170.7,277.7 171.5,277.1 172.3,277.3 173.1,276.9 173.9,276.7 174.7,276.3 175.5,276.4 176.3,276.0 177.1,275.5 177.9,275.0 178.7,274.9 179.5,275.1 180.3,274.9 181.1,274.1 181.9,274.1 182.7,273.9 183.5,273.4 184.3,273.1 185.1,273.4 185.9,273.2 186.7,273.0 187.5,272.3 188.3,272.5 189.1,272.3 189.9,272.0 190.7,271.4 191.5,271.2 192.3,271.1 193.1,271.2 193.9,270.7 194.7,270.4 195.5,270.0 196.3,269.9 197.1,269.7 197.9,269.7 198.7,269.5 199.5,269.1 200.3,268.9 201.1,269.1 201.9,268.6 202.7,268.8 203.5,268.5 204.3,268.6 205.1,268.0 205.9,268.4 206.7,268.2 207.5,267.8 208.3,267.6 209.1,267.3 209.9,267.4 210.7,267.1 211.5,267.0 212.3,266.7 213.1,267.0 213.9,266.8 214.7,266.7 215.5,266.7 216.3,266.3 217.1,266.0 217.9,265.8 218.7,265.8 219.5,265.6 220.3,265.4 221.1,265.1 221.9,264.8 222.7,265.0 223.5,264.9 224.3,264.5 225.1,264.2 225.9,263.7 226.7,263.6 227.5,263.7 228.3,263.4 229.1,262.6 229.9,262.8 230.7,262.1 231.5,262.4 232.3,261.6 233.1,261.7 233.9,261.6 234.7,260.7 235.5,260.4 236.3,260.5 237.1,260.1 237.9,260.2 238.7,259.5 239.5,259.0 240.3,259.4 241.1,258.9 241.9,258.6 242.7,258.4 243.5,258.3 244.3,257.6 245.1,257.3 245.9,257.5 246.7,256.9 247.5,256.3 248.3,256.5 249.1,256.1 249.9,255.5 250.7,255.4 251.5,255.3 252.3,255.2 253.1,254.8 253.9,254.5 254.7,254.4 255.5,253.9 256.3,253.9 257.1,253.6 257.9,252.9 258.7,253.1 259.5,253.0 260.3,252.8 261.1,252.3 261.9,251.8 262.7,251.9 263.5,251.4 264.3,251.5 265.1,251.4 265.9,251.1 266.7,251.0 267.5,250.9 268.3,250.5 269.1,250.1 269.9,250.3 270.7,249.9 271.5,249.9 272.3,249.5 273.1,249.7 273.9,249.2 274.7,249.1 275.5,249.0 276.3,248.8 277.1,248.8 277.9,248.3 278.7,248.0 279.5,247.9 280.3,247.9 281.1,247.9 281.9,247.4 282.7,247.4 283.5,247.4 284.3,247.0 285.1,247.1 285.9,247.0 286.7,246.5 287.5,246.8 288.3,246.7 289.1,246.5 289.9,245.9 290.7,245.8 291.5,245.9 292.3,245.9 293.1,245.2 293.9,245.3 294.7,245.4 295.5,245.0 296.3,244.9 297.1,245.3 297.9,245.0 298.7,245.0 299.5,244.5 300.3,244.5 301.1,244.3 301.9,244.4 302.7,244.2 303.5,244.1 304.3,244.5 305.1,244.1 305.9,244.5 306.7,243.8 307.5,243.9 308.3,243.9 309.1,243.9 309.9,243.9 310.7,243.8 311.5,243.7 312.3,243.6 313.1,243.8 313.9,243.5 314.7,243.8 315.5,243.6 316.3,243.4 317.1,243.7 317.9,243.5 318.7,243.6 319.5,243.2 320.3,243.5 321.1,243.5 321.9,243.5 322.7,243.5 323.5,243.4 324.3,243.8 325.1,244.1 325.9,244.0 326.7,244.0 327.5,244.0 328.3,244.3 329.1,244.4 329.9,244.5 330.7,244.8 331.5,245.0 332.3,245.4 333.1,245.9 333.9,246.0 334.7,246.7 335.5,246.8 336.3,247.3 337.1,248.3 337.9,248.8 338.7,249.4 339.5,250.1 340.3,250.8 341.1,251.7 341.9,252.5 342.7,253.7 343.5,254.4 344.3,255.8 345.1,257.0 345.9,258.4 346.7,260.3 347.5,262.1 348.3,264.2 349.1,266.1 349.9,267.9 350.7,270.2 351.5,272.2 352.3,274.7 353.1,276.9 353.9,279.4 354.7,281.5 355.5,283.3 356.3,284.9 357.1,287.0 357.9,289.0 358.7,291.8 359.5,295.4 360.3,299.0 361.1,301.8 361.9,304.6 362.7,307.1 363.5,310.2 364.3,312.8 365.1,315.1 365.9,317.6 366.7,319.5 367.5,322.1 368.3,324.1 369.1,326.7 369.9,328.7 370.7,330.9 371.5,333.1 372.3,335.3 373.1,337.8 373.9,340.1 374.7,341.8 375.5,344.6 376.3,347.4 377.1,348.9 377.9,351.3 378.7,354.4 379.5,355.7 380.3,356.8 381.1,360.2 381.8,359.7 382.6,362.4 383.3,364.5 384.1,361.5 384.8,366.3 385.6,362.2 386.3,365.9 387.1,367.8 387.8,370.4 388.6,366.2 389.3,373.1 390.1,371.6 390.8,373.8 391.6,367.3 392.3,370.7 393.1,370.1 393.8,375.8 394.6,374.5 395.3,367.8 396.1,376.2 396.8,370.4 397.6,371.9 398.3,367.4 399.1,372.7 399.8,377.4 400.6,372.6 401.3,367.9 402.1,377.4 402.8,373.3 403.6,369.1 404.3,376.3 405.1,370.4 405.8,375.6 406.6,373.5 407.3,371.6 408.1,373.9 408.8,372.4 409.6,374.6 410.3,376.0 411.1,375.2 411.8,370.0 412.6,376.2 413.3,380.7 414.1,379.7 414.8,374.7 415.6,379.0 416.3,371.9 417.1,378.4 417.8,372.2 418.6,371.1 419.3,378.1 420.1,374.5 420.8,376.5 421.6,371.1 422.3,373.2 423.1,371.5 423.8,381.7 424.6,372.1 425.3,381.7 426.1,371.7 426.8,373.3 427.6,379.4 428.3,378.5 429.1,371.6 429.8,375.0 430.6,372.6 431.3,375.1 432.0,375.3"/><path d="M242.3 258.4V252.9M236.3 260.4V235.9" stroke="#7ae814" stroke-width="2.4" stroke-linecap="round"/><polyline stroke="#f35c0c" stroke-width="3.3" points="83.5,322.7 84.3,320.1 85.1,313.8 85.9,310.3 86.7,310.5 87.5,309.4 88.3,309.1 89.1,310.0 89.9,308.3 90.7,309.0 91.5,307.6 92.3,307.5 93.1,308.2 93.9,307.4 94.7,307.3 95.5,306.7 96.3,307.9 97.1,307.4 97.9,306.3 98.7,306.4 99.5,306.1 100.3,307.0 101.1,306.6 101.9,305.9 102.7,306.2 103.5,306.6 104.3,305.5 105.1,305.7 105.9,305.6 106.7,305.9 107.5,304.8 108.3,305.3 109.1,305.0 109.9,304.8 110.7,305.1 111.5,304.8 112.3,305.6 113.1,304.4 113.9,305.8 114.7,305.8 115.5,305.9 116.3,304.1 117.1,303.9 117.9,305.6 118.7,303.7 119.5,303.6 120.3,303.6 121.1,304.3 121.9,304.5 122.7,302.9 123.5,303.4 124.3,303.3 125.1,304.3 125.9,303.4 126.7,303.0 127.5,302.6 128.3,302.4 129.1,302.1 129.9,302.9 130.7,301.6 131.5,302.2 132.3,302.5 133.1,301.9 133.9,301.6 134.7,301.8 135.5,300.5 136.3,300.4 137.1,300.2 137.9,300.5 138.7,300.6 139.5,300.2 140.3,300.1 141.1,300.7 141.9,300.7 142.7,300.4 143.5,300.2 144.3,298.7 145.1,299.2 145.9,299.1 146.7,299.4 147.5,298.9 148.3,299.0 149.1,299.3 149.9,298.7 150.7,297.8 151.5,299.0 152.3,298.7 153.1,297.8 153.9,298.2 154.7,296.6 155.5,297.5 156.3,297.3 157.1,297.8 157.9,297.2 158.7,295.6 159.5,296.4 160.3,297.1 161.1,295.3 161.9,296.2 162.7,295.4 163.5,295.3 164.3,296.1 165.1,295.8 165.9,294.6 166.7,295.1 167.5,294.1 168.3,294.5 169.1,293.6 169.9,294.6 170.7,293.1 171.5,292.8 172.3,292.5 173.1,294.0 173.9,293.5 174.7,293.3 175.5,293.6 176.3,293.0 177.1,291.5 177.9,291.4 178.7,291.2 179.5,291.1 180.3,290.9 181.1,291.0 181.9,291.0 182.7,291.3 183.5,290.9 184.3,291.2 185.1,290.4 185.9,291.3 186.7,290.6 187.5,288.9 188.3,289.5 189.1,289.1 189.9,289.8 190.7,288.1 191.5,289.6 192.3,288.9 193.1,289.2 193.9,287.9 194.7,288.9 195.5,287.0 196.3,288.1 197.1,286.7 197.9,288.2 198.7,286.8 199.5,287.3 200.3,286.6 201.1,287.1 201.9,286.6 202.7,286.1 203.5,285.6 204.3,287.3 205.1,286.3 205.9,285.9 206.7,286.7 207.5,286.5 208.3,286.7 209.1,286.5 209.9,286.6 210.7,286.4 211.5,286.0 212.3,286.2 213.1,286.4 213.9,284.8 214.7,285.1 215.5,285.2 216.3,285.5 217.1,284.5 217.9,285.1 218.7,284.6 219.5,284.0 220.3,284.0 221.1,285.3 221.9,283.6 222.7,283.4 223.5,283.5 224.3,282.7 225.1,282.9 225.9,283.9 226.7,282.5 227.5,282.6 228.3,282.2 229.1,282.6 229.9,282.0 230.7,281.6 231.5,280.6 232.3,280.6 233.1,279.4 233.9,279.2 234.7,279.7 235.5,280.0 236.3,278.8 237.1,277.8 237.9,278.9 238.7,277.8 239.5,277.5 240.3,278.4 241.1,277.4 241.9,278.0 242.7,277.8 243.5,275.6 244.3,276.9 245.1,276.2 245.9,275.0 246.7,276.0 247.5,275.2 248.3,275.5 249.1,274.2 249.9,274.0 250.7,274.9 251.5,274.4 252.3,273.3 253.1,274.0 253.9,273.9 254.7,273.4 255.5,273.4 256.3,272.0 257.1,273.4 257.9,271.5 258.7,271.1 259.5,271.8 260.3,272.0 261.1,271.7 261.9,270.5 262.7,270.0 263.5,270.1 264.3,268.5 265.1,269.2 265.9,267.5 266.7,267.1 267.5,267.9 268.3,267.6 269.1,267.0 269.9,266.7 270.7,267.9 271.5,267.6 272.3,267.1 273.1,267.1 273.9,268.5 274.7,269.3 275.5,269.3 276.3,268.4 277.1,268.5 277.9,269.7 278.7,268.8 279.5,270.4 280.3,269.0 281.1,269.4 281.9,268.9 282.7,268.7 283.5,268.9 284.3,268.9 285.1,269.6 285.9,269.0 286.7,269.6 287.5,268.3 288.3,268.3 289.1,268.4 289.9,267.8 290.7,267.3 291.5,267.8 292.3,267.7 293.1,267.5 293.9,265.9 294.7,266.2 295.5,265.9 296.3,266.5 297.1,265.1 297.9,264.9 298.7,265.7 299.5,265.8 300.3,265.6 301.1,263.9 301.9,264.6 302.7,264.3 303.5,265.0 304.3,264.2 305.1,263.6 305.9,263.1 306.7,264.8 307.5,264.6 308.3,263.8 309.1,263.9 309.9,263.6 310.7,263.1 311.5,262.9 312.3,263.2 313.1,262.7 313.9,263.1 314.7,262.9 315.5,262.8 316.3,261.9 317.1,263.3 317.9,263.2 318.7,263.4 319.5,262.1 320.3,262.6 321.1,263.0 321.9,263.2 322.7,262.8 323.5,262.8 324.3,263.9 325.1,262.9 325.9,264.1 326.7,263.2 327.5,262.9 328.3,263.3 329.1,264.2 329.9,263.9 330.7,264.6 331.5,264.8 332.3,264.7 333.1,265.6 333.9,265.1 334.7,265.5 335.5,267.3 336.3,266.5 337.1,267.1 337.9,267.9 338.7,269.2 339.5,269.3 340.3,270.2 341.1,272.2 341.9,272.0 342.7,273.8 343.5,275.2 344.3,277.2 345.1,277.2 345.9,278.0 346.7,280.7 347.5,280.8 348.3,283.5 349.1,283.7 349.9,285.2 350.7,288.9 351.5,290.6 352.3,292.5 353.1,296.5 353.9,301.0 354.7,302.4 355.5,306.7 356.3,307.8 357.1,311.5 357.9,313.5 358.7,317.0 359.5,319.0 360.3,321.7 361.1,325.0 361.9,328.5 362.7,330.7 363.5,333.1 364.3,335.3 365.1,337.7 365.9,339.3 366.7,342.7 367.5,345.2 368.3,348.4 369.1,351.7 369.9,353.8 370.7,355.9 371.5,358.4 372.3,358.7 373.1,363.9 373.9,365.1 374.7,365.7 375.5,364.3 376.3,367.4 377.0,365.3 377.8,371.7 378.5,370.5 379.3,368.8 380.0,369.6 380.8,369.5 381.5,374.0 382.3,372.4 383.0,368.1 383.8,368.3 384.5,375.2 385.3,370.7 386.0,372.3 386.8,374.4 387.5,371.4 388.3,376.3 389.0,376.0 389.8,369.4 390.5,375.0 391.3,378.9 392.0,376.0 392.8,371.1 393.5,371.7 394.3,378.6 395.0,377.8 395.8,371.7 396.5,374.6 397.3,372.8 398.0,378.5 398.8,369.6 399.5,369.2 400.3,380.8 401.0,371.7 401.8,371.8 402.5,379.1 403.3,379.8 404.0,376.3 404.8,371.4 405.5,372.2 406.3,371.5 407.0,369.4 407.8,369.7 408.5,374.8 409.3,376.4 410.0,371.1 410.8,369.8 411.5,371.8 412.3,370.9 413.0,370.7 413.8,372.7 414.5,372.8 415.3,371.1 416.0,371.2 416.8,370.2 417.5,375.5 418.3,370.7 419.0,377.5 419.8,380.7 420.5,372.4 421.3,372.5 422.0,378.7 422.8,376.5 423.5,370.6 424.3,381.1 425.0,370.4 425.8,376.6 426.5,372.4 427.3,379.0 428.0,371.8 428.8,376.4 429.5,375.7 430.3,375.0 431.0,375.6 431.8,375.3 432.0,373.4"/><path d="M191.9 288.7V279.7M213.2 285.5V277.0M236.3 279.0V241.5" stroke="#f35c0c" stroke-width="2.4" stroke-linecap="round"/><polyline stroke="#10a6e6" stroke-width="3.3" points="83.5,336.5 84.3,337.0 85.1,336.9 85.9,332.6 86.8,369.0 87.5,336.1 88.3,333.4 89.1,333.0 89.9,333.2 90.7,331.4 91.5,333.8 92.3,331.6 93.1,331.2 93.9,332.2 94.7,333.6 95.5,330.1 96.3,332.0 97.1,333.5 97.9,333.1 98.7,329.7 99.5,330.1 100.3,328.9 101.1,332.0 101.9,328.7 102.7,331.0 103.5,331.8 104.3,331.0 105.1,331.6 105.9,330.4 106.7,327.8 107.5,328.3 108.3,331.3 109.1,327.8 109.9,328.7 110.7,328.8 111.5,330.1 112.3,331.2 113.1,330.1 113.9,327.1 114.7,326.7 115.5,328.4 116.3,326.8 117.1,327.7 117.9,328.6 118.7,327.9 119.5,327.1 120.3,327.2 121.1,329.7 121.9,328.6 122.7,325.5 123.5,326.9 124.3,327.8 125.1,328.8 125.9,325.7 126.7,327.7 127.5,327.3 128.3,324.3 129.1,323.8 129.9,323.8 130.7,323.7 131.5,326.2 132.3,323.2 133.1,326.1 133.9,325.1 134.7,326.4 135.5,323.6 136.3,325.8 137.1,325.8 137.9,323.9 138.7,323.3 139.5,323.7 140.3,324.6 141.1,324.7 141.9,323.6 142.7,321.9 143.5,321.2 144.3,323.8 145.1,323.5 145.9,321.8 146.7,321.5 147.5,323.2 148.3,321.5 149.1,320.6 149.9,322.0 150.7,322.8 151.5,321.4 152.3,319.5 153.1,319.7 153.9,319.8 154.7,321.5 155.5,318.8 156.3,318.8 157.1,317.7 157.9,318.2 158.7,319.5 159.5,317.5 160.3,318.5 161.1,318.9 161.9,316.0 162.7,316.0 163.5,316.0 164.3,314.6 165.1,314.3 165.9,316.7 166.7,316.6 167.5,314.7 168.3,315.8 169.1,313.4 169.9,313.7 170.7,314.3 171.5,312.9 172.3,313.8 173.1,313.4 173.9,314.3 174.7,313.6 175.5,312.0 176.3,312.5 177.1,312.0 177.9,311.9 178.7,311.8 179.5,311.3 180.3,309.8 181.1,309.9 181.9,310.1 182.7,312.0 183.5,311.8 184.3,310.8 185.1,311.3 185.9,310.8 186.7,310.1 187.5,308.8 188.3,308.4 189.1,307.8 189.9,310.4 190.7,308.3 191.5,310.2 192.3,307.1 193.1,308.4 193.9,309.6 194.7,306.7 195.5,309.4 196.3,308.5 197.1,306.9 197.9,308.9 198.7,308.2 199.5,306.4 200.3,308.2 201.1,306.0 201.9,307.8 202.7,307.5 203.5,306.9 204.3,306.3 205.1,305.5 205.9,304.9 206.7,305.6 207.5,304.6 208.3,305.6 209.1,305.6 209.9,305.9 210.7,304.7 211.5,304.6 212.3,305.4 213.1,304.1 213.9,303.1 214.7,305.3 215.5,302.8 216.3,302.3 217.1,302.6 217.9,304.1 218.7,303.6 219.5,301.3 220.3,302.6 221.1,302.9 221.9,302.8 222.7,301.2 223.5,301.9 224.3,299.9 225.1,298.5 225.9,298.5 226.7,298.5 227.5,297.4 228.3,299.8 229.1,299.5 229.9,298.8 230.7,297.2 231.5,296.5 232.3,295.6 233.1,295.8 233.9,294.0 234.7,295.4 235.5,293.5 236.3,294.4 237.1,291.8 237.9,291.8 238.7,293.1 239.5,292.6 240.3,291.9 241.1,291.3 241.9,292.3 242.7,291.1 243.5,289.8 244.3,289.2 245.1,289.7 245.9,291.1 246.7,288.5 247.5,290.5 248.3,289.9 249.1,287.8 249.9,287.0 250.7,286.9 251.5,287.9 252.3,286.7 253.1,287.7 253.9,286.7 254.7,285.7 255.5,285.7 256.3,285.8 257.1,285.2 257.9,283.0 258.7,282.9 259.5,282.3 260.3,283.2 261.1,283.8 261.9,282.0 262.7,280.3 263.5,280.9 264.3,280.2 265.1,280.3 265.9,281.6 266.7,281.3 267.5,279.8 268.3,280.1 269.1,277.8 269.9,279.3 270.7,279.4 271.5,280.2 272.3,279.6 273.1,280.6 273.9,283.2 274.7,282.3 275.5,285.9 276.3,285.9 277.1,287.1 277.9,287.7 278.7,286.8 279.5,288.7 280.3,288.2 281.1,287.9 281.9,286.4 282.7,287.6 283.5,287.8 284.3,286.5 285.1,287.1 285.9,287.5 286.7,286.7 287.5,286.8 288.3,287.3 289.1,286.5 289.9,287.0 290.7,287.3 291.5,286.7 292.3,286.5 293.1,286.9 293.9,287.4 294.7,285.3 295.5,285.9 296.3,285.5 297.1,286.2 297.9,284.4 298.7,284.3 299.5,286.7 300.3,285.4 301.1,285.5 301.9,284.1 302.7,283.6 303.5,283.7 304.3,283.5 305.1,284.4 305.9,284.0 306.7,286.1 307.5,283.3 308.3,283.1 309.1,283.3 309.9,283.0 310.7,284.4 311.5,284.1 312.3,283.8 313.1,285.8 313.9,285.1 314.7,283.3 315.5,283.0 316.3,285.4 317.1,285.3 317.9,282.9 318.7,285.2 319.5,284.5 320.3,285.1 321.1,284.9 321.9,283.7 322.7,285.4 323.5,283.0 324.3,285.8 325.1,283.2 325.9,285.1 326.7,284.7 327.5,285.3 328.3,286.3 329.1,285.8 329.9,285.3 330.7,286.0 331.5,285.3 332.3,284.9 333.1,285.2 333.9,286.0 334.7,288.4 335.5,287.4 336.3,288.7 337.1,288.2 337.9,290.3 338.7,290.3 339.5,289.8 340.3,289.9 341.1,292.9 341.9,292.1 342.7,295.0 343.5,294.2 344.3,297.5 345.1,298.5 345.9,298.2 346.7,300.4 347.5,302.4 348.3,302.5 349.1,304.3 349.9,306.1 350.7,307.8 351.5,313.1 352.3,314.3 353.1,318.9 353.9,320.9 354.7,324.0 355.5,328.6 356.3,329.0 357.1,331.2 357.9,335.9 358.7,337.3 359.5,339.5 360.3,343.7 361.1,344.6 361.9,349.0 362.7,350.3 363.5,353.2 364.3,357.2 365.1,357.7 365.9,357.5 366.6,360.6 367.4,366.2 368.1,364.3 368.9,367.8 369.6,369.1 370.4,371.8 371.1,369.7 371.9,373.1 372.6,371.5 373.4,371.4 374.1,370.3 374.9,377.9 375.6,371.2 376.4,374.6 377.1,377.7 377.9,374.2 378.6,377.0 379.4,381.1 380.1,380.5 380.9,376.2 381.6,383.2 382.4,383.0 383.1,382.7 383.9,375.2 384.6,377.6 385.4,385.8 386.1,380.4 386.9,375.6 387.6,378.5 388.4,377.3 389.1,380.4 389.9,376.6 390.6,386.3 391.4,379.5 392.1,379.5 392.9,372.5 393.6,375.6 394.4,375.2 395.1,378.6 395.9,373.2 396.6,376.9 397.4,385.1 398.1,380.0 398.9,386.2 399.6,378.7 400.4,381.4 401.1,385.7 401.9,378.2 402.6,379.8 403.4,379.0 404.1,380.8 404.9,376.9 405.6,383.8 406.4,376.1 407.1,373.9 407.9,374.8 408.6,375.3 409.4,380.5 410.1,384.8 410.9,379.5 411.6,375.5 412.4,374.7 413.1,384.8 413.9,379.1 414.6,373.5 415.4,383.7 416.1,385.7 416.9,387.8 417.6,386.4 418.4,373.7 419.1,383.7 419.9,382.0 420.6,379.1 421.4,375.0 422.1,375.5 422.9,385.2 423.6,378.2 424.4,383.0 425.1,382.2 425.9,384.4 426.6,384.2 427.4,379.2 428.1,375.6 428.9,381.1 429.6,377.3 430.4,384.8 431.1,382.0 431.9,382.3 432.0,384.6"/><path d="M153.7 320.4V294.4" stroke="#10a6e6" stroke-width="2.4" stroke-linecap="round"/><polyline stroke="#535353" stroke-width="3.3" points="86.5,380.2 87.3,366.4 88.1,368.9 88.9,368.1 89.7,366.6 90.5,354.6 91.3,368.9 92.1,360.4 92.9,371.8 93.7,362.2 94.5,364.1 95.3,358.7 96.1,359.0 96.9,363.8 97.7,367.4 98.5,368.3 99.3,358.5 100.1,354.8 100.9,365.8 101.7,371.4 102.5,359.4 103.3,359.7 104.1,359.4 104.9,364.4 105.7,368.4 106.5,355.7 107.3,364.6 108.1,371.0 108.9,365.3 109.7,356.2 110.5,351.7 111.3,361.2 112.1,369.1 112.9,365.4 113.7,368.9 114.5,358.1 115.3,360.4 116.1,355.4 116.9,362.6 117.7,358.4 118.5,355.2 119.3,357.0 120.1,361.4 120.9,362.6 121.7,361.8 122.5,367.3 123.3,360.8 124.1,353.4 124.9,361.2 125.7,353.2 126.5,351.9 127.3,358.5 128.1,353.3 128.9,355.2 129.7,353.1 130.5,353.9 131.3,348.4 132.1,357.1 132.9,357.8 133.7,352.8 134.5,357.3 135.3,355.8 136.1,356.5 136.9,357.0 137.7,349.0 138.5,354.4 139.3,351.6 140.1,353.7 140.9,350.8 141.7,356.3 142.5,354.9 143.3,350.6 144.1,351.4 144.9,350.6 145.7,350.4 146.5,351.5 147.3,347.3 148.1,346.2 148.9,350.8 149.7,348.9 150.5,347.2 151.3,346.4 152.1,344.7 152.9,346.5 153.7,343.6 154.5,346.4 155.3,346.3 156.1,344.2 156.9,346.7 157.7,345.8 158.5,344.4 159.3,342.3 160.1,342.0 160.9,340.9 161.7,338.6 162.5,341.1 163.3,341.5 164.1,337.1 164.9,339.3 165.7,337.5 166.5,337.3 167.3,337.5 168.1,337.0 168.9,333.8 169.7,335.4 170.5,333.1 171.3,329.7 172.1,335.8 172.9,332.2 173.7,331.1 174.5,333.2 175.3,331.4 176.0,329.5 176.7,330.3 177.4,330.1 178.1,329.0 178.8,325.8 179.5,328.9 180.2,327.1 180.9,326.7 181.6,328.1 182.3,330.9 183.0,326.0 183.7,327.9 184.4,325.3 185.1,325.0 185.8,326.5 186.5,328.1 187.2,327.1 187.9,326.9 188.6,328.0 189.3,326.9 190.0,325.2 190.7,324.5 191.4,325.2 192.1,325.8 192.8,324.7 193.5,324.6 194.2,323.9 194.9,323.3 195.6,322.6 196.3,322.8 197.0,325.7 197.7,324.5 198.4,324.6 199.1,322.7 199.8,322.0 200.5,322.8 201.2,321.0 201.9,322.4 202.6,320.9 203.3,321.3 204.0,319.0 204.7,321.8 205.4,319.4 206.1,319.6 206.8,317.6 207.5,317.5 208.2,319.2 208.9,316.6 209.6,320.6 210.3,319.0 211.0,321.5 211.7,320.2 212.4,321.3 213.1,321.6 213.8,322.6 214.5,320.4 215.2,321.9 215.9,321.5 216.6,321.9 217.3,319.8 218.0,320.6 218.7,319.5 219.4,319.7 220.1,321.3 220.8,321.2 221.5,318.5 222.2,319.3 222.9,319.2 223.6,317.9 224.3,318.3 225.0,317.2 225.7,318.9 226.4,316.7 227.1,319.2 227.8,314.6 228.5,317.2 229.2,316.6 229.9,314.4 230.6,313.0 231.3,313.7 232.0,312.4 232.7,310.7 233.4,308.4 233.5,308.0 234.6,300.0 235.4,290.0 236.2,282.0 237.0,290.0 237.8,301.0 238.5,303.0 239.0,303.0 239.7,302.8 240.4,302.7 241.1,302.1 241.8,302.2 242.5,299.7 243.2,299.4 243.9,298.8 244.6,298.7 245.3,300.0 246.0,297.7 246.7,297.6 247.4,296.2 248.1,296.9 248.8,295.4 249.5,298.2 250.2,296.6 250.9,297.6 251.6,297.8 252.3,296.5 253.0,296.0 253.7,295.4 254.4,294.4 255.1,291.9 255.8,294.3 256.5,292.7 257.2,291.7 257.9,291.7 258.6,291.9 259.3,292.4 260.0,290.3 260.7,290.1 261.4,293.2 262.1,293.0 262.8,293.8 263.5,293.0 264.2,292.0 264.9,295.4 265.6,295.2 266.3,292.6 267.0,293.4 267.7,293.6 268.4,294.4 269.1,292.7 269.8,291.5 270.5,290.4 271.2,289.9 271.9,290.2 272.6,289.3 273.3,290.8 274.0,290.2 274.7,290.2 275.4,290.6 276.1,293.7 276.8,295.1 277.5,298.0 278.2,299.2 278.9,304.1 279.6,305.6 280.3,309.5 281.0,307.4 281.7,311.7 282.4,312.8 283.1,310.9 283.8,314.0 284.5,313.5 285.2,311.1 285.9,312.4 286.6,314.8 287.3,314.4 288.0,315.5 288.7,315.4 289.4,317.1 290.1,315.4 290.8,314.8 291.5,315.5 292.2,316.6 292.9,315.7 293.6,316.9 294.3,316.8 295.0,316.7 295.7,317.0 296.4,316.6 297.1,318.3 297.8,317.2 298.5,318.0 299.2,315.4 299.9,317.1 300.6,316.5 301.3,314.8 302.0,319.5 302.7,315.5 303.4,318.1 304.1,318.0 304.8,318.5 305.5,316.6 306.2,314.4 306.9,318.0 307.6,317.2 308.3,318.3 309.0,317.5 309.7,319.4 310.4,318.6 311.1,317.8 311.8,320.9 312.5,317.9 313.2,316.1 313.9,319.0 314.6,319.6 315.3,319.8 316.0,318.6 316.7,319.3 317.4,318.4 318.1,319.0 318.8,320.4 319.5,319.0 320.2,320.6 320.9,319.5 321.6,320.0 322.3,319.6 323.0,321.4 323.7,320.3 324.4,319.4 325.1,320.6 325.8,322.0 326.5,321.1 327.2,319.7 327.9,320.3 328.6,320.2 329.3,323.3 330.0,322.2 330.7,323.3 331.4,323.5 332.1,322.4 332.8,324.4 333.5,323.2 334.2,323.9 334.9,321.3 335.6,323.8 336.3,323.6 337.0,323.3 337.7,324.6 338.4,323.0 339.1,324.4 339.8,322.3 340.5,325.0 341.2,325.0 341.9,328.9 342.6,327.8 343.3,329.4 344.0,326.5 344.7,330.0 345.4,329.8 346.1,334.6 346.9,335.3 347.7,335.3 348.5,336.7 349.3,338.0 350.1,339.1 350.9,341.6 351.7,342.8 352.5,342.8 353.3,343.1 354.1,349.2 354.9,346.9 355.7,348.4 356.5,356.7 357.3,355.1 358.1,357.0 358.9,356.9 359.7,359.9 360.5,366.9 361.3,365.7 362.1,370.6 362.9,367.9 363.7,373.3 364.5,373.6 365.3,374.0 366.1,372.8 366.9,380.5 367.7,379.7 368.5,380.9 369.3,384.0 370.1,381.3 370.9,387.0 371.7,386.7 372.5,387.1 373.3,388.0 374.1,386.1 374.9,387.6 375.7,389.1 376.0,387.2"/><path d="M233.9 304L235 279L235.6 243.5L236.9 243.5L237.6 279L238.8 303Z" fill="#535353"/><g fill="#535353"><rect x="358.0" y="369.0" width="1.3" height="26.2"/><rect x="359.0" y="369.0" width="1.3" height="25.4"/><rect x="360.0" y="369.8" width="1.3" height="24.9"/><rect x="361.0" y="375.8" width="1.3" height="28.9"/><rect x="362.0" y="376.2" width="1.3" height="26.6"/><rect x="363.0" y="375.9" width="1.3" height="26.9"/><rect x="364.0" y="374.7" width="1.3" height="30.7"/><rect x="365.0" y="375.1" width="1.3" height="27.1"/><rect x="366.0" y="381.0" width="1.3" height="27.3"/><rect x="367.0" y="376.8" width="1.3" height="34.1"/><rect x="368.0" y="378.3" width="1.3" height="29.3"/><rect x="369.0" y="381.1" width="1.3" height="28.5"/><rect x="370.0" y="376.6" width="1.3" height="30.5"/><rect x="371.0" y="381.5" width="1.3" height="29.3"/><rect x="372.0" y="385.5" width="1.3" height="36.8"/><rect x="373.0" y="380.3" width="1.3" height="42.3"/><rect x="374.0" y="381.9" width="1.3" height="38.7"/><rect x="375.0" y="381.1" width="1.3" height="39.0"/><rect x="376.0" y="384.2" width="1.3" height="75.8"/><rect x="377.0" y="390.6" width="1.3" height="69.4"/><rect x="378.0" y="384.5" width="1.3" height="75.5"/><rect x="379.0" y="391.0" width="1.3" height="69.0"/><rect x="380.0" y="384.4" width="1.3" height="75.6"/><rect x="381.0" y="385.7" width="1.3" height="74.3"/><rect x="382.0" y="384.6" width="1.3" height="75.4"/><rect x="383.0" y="390.6" width="1.3" height="69.4"/><rect x="384.0" y="385.0" width="1.3" height="18.0"/><rect x="385.0" y="389.1" width="1.3" height="13.9"/><rect x="386.0" y="389.4" width="1.3" height="70.6"/><rect x="387.0" y="389.0" width="1.3" height="71.0"/><rect x="388.0" y="385.3" width="1.3" height="74.7"/><rect x="389.0" y="389.7" width="1.3" height="70.3"/><rect x="390.0" y="386.0" width="1.3" height="74.0"/><rect x="391.0" y="390.1" width="1.3" height="13.9"/><rect x="392.0" y="384.4" width="1.3" height="75.6"/><rect x="393.0" y="384.4" width="1.3" height="75.6"/><rect x="394.0" y="384.7" width="1.3" height="75.3"/><rect x="395.0" y="385.3" width="1.3" height="74.7"/><rect x="396.0" y="390.4" width="1.3" height="69.6"/><rect x="397.0" y="385.9" width="1.3" height="74.1"/><rect x="398.0" y="384.1" width="1.3" height="75.9"/><rect x="399.0" y="387.9" width="1.3" height="72.1"/><rect x="400.0" y="387.7" width="1.3" height="72.3"/><rect x="401.0" y="385.6" width="1.3" height="74.4"/><rect x="402.0" y="389.0" width="1.3" height="71.0"/><rect x="403.0" y="386.9" width="1.3" height="73.1"/><rect x="404.0" y="384.0" width="1.3" height="76.0"/><rect x="405.0" y="386.5" width="1.3" height="73.5"/><rect x="406.0" y="386.7" width="1.3" height="73.3"/><rect x="407.0" y="385.9" width="1.3" height="74.1"/><rect x="408.0" y="385.2" width="1.3" height="74.8"/><rect x="409.0" y="387.3" width="1.3" height="72.7"/><rect x="410.0" y="390.2" width="1.3" height="69.8"/><rect x="411.0" y="385.4" width="1.3" height="74.6"/><rect x="412.0" y="390.3" width="1.3" height="69.7"/><rect x="413.0" y="384.6" width="1.3" height="75.4"/><rect x="414.0" y="388.3" width="1.3" height="71.7"/><rect x="415.0" y="384.8" width="1.3" height="75.2"/><rect x="416.0" y="388.4" width="1.3" height="71.6"/><rect x="417.0" y="386.0" width="1.3" height="74.0"/><rect x="418.0" y="388.9" width="1.3" height="71.1"/><rect x="419.0" y="389.9" width="1.3" height="70.1"/><rect x="420.0" y="385.9" width="1.3" height="74.1"/><rect x="421.0" y="389.8" width="1.3" height="70.2"/><rect x="422.0" y="385.6" width="1.3" height="74.4"/><rect x="423.0" y="387.2" width="1.3" height="72.8"/><rect x="424.0" y="384.6" width="1.3" height="75.4"/><rect x="425.0" y="387.1" width="1.3" height="72.9"/><rect x="426.0" y="390.6" width="1.3" height="69.4"/><rect x="427.0" y="385.1" width="1.3" height="74.9"/><rect x="428.0" y="387.4" width="1.3" height="72.6"/><rect x="429.0" y="384.4" width="1.3" height="75.6"/><rect x="430.0" y="389.1" width="1.3" height="70.9"/><rect x="431.0" y="385.6" width="1.3" height="74.4"/><rect x="432.0" y="389.3" width="1.3" height="70.7"/></g><path d="M392.6 398V458M408.9 395V458" stroke="#1aa0dc" stroke-width="1.1"/></g><g stroke="#000" fill="none"><rect x="82.2" y="21.5" width="435.4" height="435.4" stroke-width="2.5"/><path stroke-width="2.2" d="M191 21.5v8.5M191 456.9v-8.5M300 21.5v8.5M300 456.9v-8.5M409 21.5v8.5M409 456.9v-8.5M82.2 456.90h8.5M517.6 456.90h-8.5M82.2 440.52h4.8M517.6 440.52h-4.8M82.2 430.93h4.8M517.6 430.93h-4.8M82.2 424.13h4.8M517.6 424.13h-4.8M82.2 418.86h4.8M517.6 418.86h-4.8M82.2 414.55h4.8M517.6 414.55h-4.8M82.2 410.91h4.8M517.6 410.91h-4.8M82.2 407.75h4.8M517.6 407.75h-4.8M82.2 404.97h4.8M517.6 404.97h-4.8M82.2 402.47h8.5M517.6 402.47h-8.5M82.2 386.09h4.8M517.6 386.09h-4.8M82.2 376.51h4.8M517.6 376.51h-4.8M82.2 369.71h4.8M517.6 369.71h-4.8M82.2 364.43h4.8M517.6 364.43h-4.8M82.2 360.12h4.8M517.6 360.12h-4.8M82.2 356.48h4.8M517.6 356.48h-4.8M82.2 353.32h4.8M517.6 353.32h-4.8M82.2 350.54h4.8M517.6 350.54h-4.8M82.2 348.05h8.5M517.6 348.05h-8.5M82.2 331.67h4.8M517.6 331.67h-4.8M82.2 322.08h4.8M517.6 322.08h-4.8M82.2 315.28h4.8M517.6 315.28h-4.8M82.2 310.01h4.8M517.6 310.01h-4.8M82.2 305.70h4.8M517.6 305.70h-4.8M82.2 302.06h4.8M517.6 302.06h-4.8M82.2 298.90h4.8M517.6 298.90h-4.8M82.2 296.12h4.8M517.6 296.12h-4.8M82.2 293.62h8.5M517.6 293.62h-8.5M82.2 277.24h4.8M517.6 277.24h-4.8M82.2 267.66h4.8M517.6 267.66h-4.8M82.2 260.86h4.8M517.6 260.86h-4.8M82.2 255.58h4.8M517.6 255.58h-4.8M82.2 251.27h4.8M517.6 251.27h-4.8M82.2 247.63h4.8M517.6 247.63h-4.8M82.2 244.47h4.8M517.6 244.47h-4.8M82.2 241.69h4.8M517.6 241.69h-4.8M82.2 239.20h8.5M517.6 239.20h-8.5M82.2 222.82h4.8M517.6 222.82h-4.8M82.2 213.23h4.8M517.6 213.23h-4.8M82.2 206.43h4.8M517.6 206.43h-4.8M82.2 201.16h4.8M517.6 201.16h-4.8M82.2 196.85h4.8M517.6 196.85h-4.8M82.2 193.21h4.8M517.6 193.21h-4.8M82.2 190.05h4.8M517.6 190.05h-4.8M82.2 187.27h4.8M517.6 187.27h-4.8M82.2 184.77h8.5M517.6 184.77h-8.5M82.2 168.39h4.8M517.6 168.39h-4.8M82.2 158.81h4.8M517.6 158.81h-4.8M82.2 152.01h4.8M517.6 152.01h-4.8M82.2 146.73h4.8M517.6 146.73h-4.8M82.2 142.42h4.8M517.6 142.42h-4.8M82.2 138.78h4.8M517.6 138.78h-4.8M82.2 135.62h4.8M517.6 135.62h-4.8M82.2 132.84h4.8M517.6 132.84h-4.8M82.2 130.35h8.5M517.6 130.35h-8.5M82.2 113.97h4.8M517.6 113.97h-4.8M82.2 104.38h4.8M517.6 104.38h-4.8M82.2 97.58h4.8M517.6 97.58h-4.8M82.2 92.31h4.8M517.6 92.31h-4.8M82.2 88.00h4.8M517.6 88.00h-4.8M82.2 84.36h4.8M517.6 84.36h-4.8M82.2 81.20h4.8M517.6 81.20h-4.8M82.2 78.42h4.8M517.6 78.42h-4.8M82.2 75.92h8.5M517.6 75.92h-8.5M82.2 59.54h4.8M517.6 59.54h-4.8M82.2 49.96h4.8M517.6 49.96h-4.8M82.2 43.16h4.8M517.6 43.16h-4.8M82.2 37.88h4.8M517.6 37.88h-4.8M82.2 33.57h4.8M517.6 33.57h-4.8M82.2 29.93h4.8M517.6 29.93h-4.8M82.2 26.77h4.8M517.6 26.77h-4.8M82.2 23.99h4.8M517.6 23.99h-4.8M82.2 21.50h8.5M517.6 21.50h-8.5"/></g><path d="M461 412V233" stroke="#000" stroke-width="2.4"/><path d="M460.9 215.6L468.2 234.6H453.6Z" fill="#000"/><g fill="#000" stroke="#000" stroke-width="0.35"><text font-family="'Liberation Sans', Arial, sans-serif" font-size="24.2" text-anchor="end" transform="translate(63.5,25.1) scale(0.82,1)">10</text><text font-family="'Liberation Sans', Arial, sans-serif" font-size="15.004" text-anchor="start" transform="translate(64.0,13.0) scale(0.82,1)">6</text><text font-family="'Liberation Sans', Arial, sans-serif" font-size="24.2" text-anchor="end" transform="translate(63.5,133.8) scale(0.82,1)">10</text><text font-family="'Liberation Sans', Arial, sans-serif" font-size="15.004" text-anchor="start" transform="translate(64.0,122.3) scale(0.82,1)">4</text><text font-family="'Liberation Sans', Arial, sans-serif" font-size="24.2" text-anchor="end" transform="translate(71.5,242.5) scale(0.82,1)">100</text><text font-family="'Liberation Sans', Arial, sans-serif" font-size="24.2" text-anchor="end" transform="translate(69.1,351.5) scale(0.82,1)">1</text><text font-family="'Liberation Sans', Arial, sans-serif" font-size="24.2" text-anchor="end" transform="translate(69.2,460.3) scale(0.78,1)">0.01</text><text font-family="'Liberation Sans', Arial, sans-serif" font-size="24.2" text-anchor="middle" transform="translate(77.4,487.7) scale(0.84,1)">2.2</text><text font-family="'Liberation Sans', Arial, sans-serif" font-size="24.2" text-anchor="middle" transform="translate(186.2,487.7) scale(0.84,1)">2.25</text><text font-family="'Liberation Sans', Arial, sans-serif" font-size="24.2" text-anchor="middle" transform="translate(295.4,487.7) scale(0.84,1)">2.3</text><text font-family="'Liberation Sans', Arial, sans-serif" font-size="24.2" text-anchor="middle" transform="translate(403.9,487.7) scale(0.84,1)">2.35</text><text font-family="'Liberation Sans', Arial, sans-serif" font-size="27.5" text-anchor="middle" transform="translate(296.5,524.5) scale(0.855,1)">Energy (eV)</text><text font-family="'Liberation Sans', Arial, sans-serif" font-size="27.5" text-anchor="middle" transform="translate(21.5,212.9) rotate(-90) scale(0.872,1)">PL Intensity (arb.units)</text><text font-family="'Liberation Sans', Arial, sans-serif" font-size="23.2" text-anchor="middle" transform="translate(463,187) scale(0.82,1)">1 mW</text><text font-family="'Liberation Sans', Arial, sans-serif" font-size="23.2" text-anchor="middle" transform="translate(472.4,443) scale(0.862,1)">30 nW</text></g></svg></body></html>
